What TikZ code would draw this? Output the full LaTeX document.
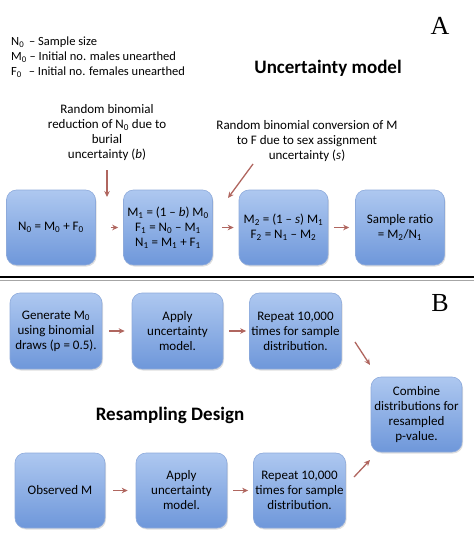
\documentclass[tikz,border=0pt]{standalone}
\usepackage{fontspec}
\setmainfont{Carlito}
\newfontfamily\panelfont{Liberation Serif}
\usetikzlibrary{arrows.meta,shadows}
\definecolor{boxTop}{HTML}{AEC8F0}
\definecolor{boxBot}{HTML}{6E97DA}
\definecolor{boxEdge}{HTML}{8DAADB}
\definecolor{arrowRed}{HTML}{B0665F}
\newcommand{\sub}[1]{\textsubscript{#1}}
\begin{document}
\begin{tikzpicture}[
    x=1pt,
    y=-1pt,
    font=\fontsize{13}{15}\selectfont,
    stepbox/.style={draw=boxEdge, line width=0.6pt, rounded corners=10pt,
        top color=boxTop, bottom color=boxBot, minimum width=89pt,
        minimum height=75pt, align=center, inner sep=2pt,
        drop shadow={opacity=0.25, shadow xshift=1pt, shadow yshift=-1.5pt}},
    flow/.style={draw=arrowRed, line width=1.3pt,
        -{Stealth[length=6pt,width=5.5pt]}, shorten <=7pt, shorten >=7pt},
    note/.style={align=center, inner sep=0pt},
    title/.style={font=\fontsize{19}{21}\selectfont\bfseries},
    panel/.style={font=\panelfont\fontsize{26}{28}\selectfont}
]
\path[use as bounding box] (0,0) rectangle (474,538);

% Panel A: uncertainty model
\node[panel] (labelA) at (440,26) {A};
\node[anchor=north west, align=left, inner sep=0pt,
    font=\fontsize{12.5}{15}\selectfont] (legend) at (11,37)
    {N\sub{0}\, – Sample size\\M\sub{0} – Initial no. males unearthed\\
     F\sub{0}\,\, – Initial no. females unearthed};
\node[title] (titleA) at (328,68) {Uncertainty model};
\node[note] (noteB) at (107,133)
    {Random binomial\\reduction of N\sub{0} due to\\burial\\uncertainty (\emph{b})};
\node[note] (noteS) at (307,141)
    {Random binomial conversion of M\\to F due to sex assignment\\uncertainty (\emph{s})};

\node[stepbox] (n0) at (51,227.5) {N\sub{0} = M\sub{0} + F\sub{0}};
\node[stepbox] (n1) at (168,227.5)
    {M\sub{1} = (1 – \emph{b}) M\sub{0}\\F\sub{1} = N\sub{0} – M\sub{1}\\N\sub{1} = M\sub{1} + F\sub{1}};
\node[stepbox] (n2) at (283.5,227.5) {M\sub{2} = (1 – \emph{s}) M\sub{1}\\F\sub{2} = N\sub{1} – M\sub{2}};
\node[stepbox] (ratio) at (400,227.5) {Sample ratio\\= M\sub{2}/N\sub{1}};

\draw[flow, shorten <=15pt, shorten >=5pt] (n0) -- (n1);
\draw[flow, shorten <=9pt, shorten >=5pt] (n1) -- (n2);
\draw[flow, shorten <=6pt, shorten >=6pt] (n2) -- (ratio);

\coordinate (tipB) at (107,197);
\coordinate (tailS) at (253,164);
\coordinate (tipS) at (228,198);
\draw[flow, shorten <=9pt, shorten >=0pt] (noteB.south) -- (tipB);
\draw[flow, shorten <=0pt, shorten >=0pt] (tailS) -- (tipS);

% Separator between the panels
\draw[black, line width=2.6pt] (0,277) -- (474,277);
\draw[black!35, line width=0.8pt] (0,280.5) -- (474,280.5);

% Panel B: resampling design
\node[panel] (labelB) at (440,303) {B};
\node[stepbox, minimum width=92pt, minimum height=76pt] (gen) at (56,331)
    {Generate M\sub{0}\\using binomial\\draws (p = 0.5).};
\node[stepbox, minimum width=91pt, minimum height=76pt] (applyA) at (177.5,331)
    {Apply\\uncertainty\\model.};
\node[stepbox, minimum width=91pt, minimum height=76pt] (repA) at (295.5,331)
    {Repeat 10,000\\times for sample\\distribution.};
\node[stepbox, minimum width=91pt] (comb) at (416.5,414.5)
    {Combine\\distributions for\\resampled\\p-value.};
\node[title] (titleB) at (170,415) {Resampling Design};
\node[stepbox, minimum width=90pt] (obs) at (60,490.5) {Observed M};
\node[stepbox, minimum width=91pt] (applyB) at (181.5,490.5)
    {Apply\\uncertainty\\model.};
\node[stepbox, minimum width=91pt] (repB) at (299.5,490.5)
    {Repeat 10,000\\times for sample\\distribution.};

\draw[flow] (gen) -- (applyA);
\draw[flow, shorten <=6pt, shorten >=3pt] (applyA) -- (repA);
\draw[flow, shorten <=8pt, shorten >=8pt] (obs) -- (applyB);
\draw[flow, shorten <=6pt, shorten >=5pt] (applyB) -- (repB);

\coordinate (tailUp) at (355,342);
\coordinate (tipUp) at (370,365);
\coordinate (tailDown) at (354,477);
\coordinate (tipDown) at (370,460);
\draw[flow, shorten <=0pt, shorten >=0pt] (tailUp) -- (tipUp);
\draw[flow, shorten <=0pt, shorten >=0pt] (tailDown) -- (tipDown);
\end{tikzpicture}
\end{document}
